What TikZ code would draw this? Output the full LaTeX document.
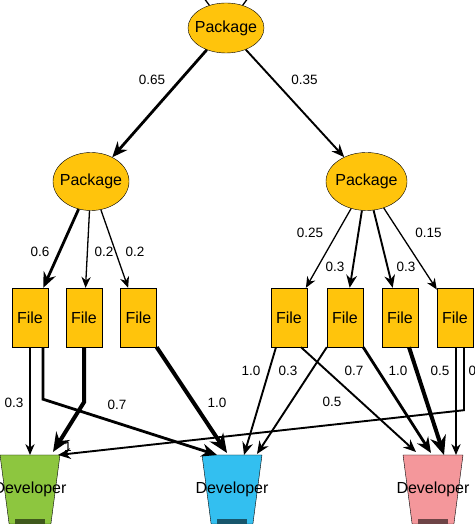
\documentclass[tikz,border=0pt]{standalone}
\usepackage{fontspec}
\setmainfont{Liberation Sans}
\usepackage{xcolor}
\usetikzlibrary{shapes.geometric,arrows.meta}
\definecolor{pkgyellow}{HTML}{FFC40C}
\definecolor{devgreen}{HTML}{8DC63F}
\definecolor{devblue}{HTML}{33BFF0}
\definecolor{devpink}{HTML}{F4979B}
\tikzset{pkg/.style={ellipse,draw,fill=pkgyellow,minimum width=76pt,minimum height=58pt,inner sep=0pt,font=\fontsize{16}{19}\selectfont}}
\tikzset{file/.style={rectangle,draw,fill=pkgyellow,minimum width=36pt,minimum height=59pt,inner sep=0pt,font=\fontsize{16}{19}\selectfont}}
\tikzset{dev/.style={trapezium,draw,shape border rotate=180,trapezium stretches=true,trapezium angle=77.7,minimum width=60pt,minimum height=69pt,inner sep=2pt,outer sep=0pt,label={[font=\fontsize{16}{19}\selectfont]center:Developer}}}
\tikzset{lbl/.style={font=\fontsize{13.5}{16}\selectfont,inner sep=0pt}}
\tikzset{e1/.style={->,line width=1.3pt},e2/.style={->,line width=1.9pt},e3/.style={->,line width=2.8pt},e4/.style={->,line width=4pt}}

\begin{document}
\begin{tikzpicture}[x=1pt,y=1pt,>={Stealth[length=7pt 3,width=6pt 2.5]}]
    \useasboundingbox (0,0) rectangle (474,524);

    \node[pkg,minimum height=50pt] (pkgTop) at (226,496) {\makebox[0pt]{Package}};
    \node[pkg] (pkgL) at (91,342.5) {\makebox[0pt]{Package}};
    \node[pkg,minimum width=81pt] (pkgR) at (366.5,342.5) {\makebox[0pt]{Package}};

    \node[file] (f1) at (30,206.5) {File};
    \node[file] (f2) at (84,206.5) {File};
    \node[file] (f3) at (138.5,206.5) {File};
    \node[file] (f4) at (289,206.5) {File};
    \node[file] (f5) at (345,206.5) {File};
    \node[file] (f6) at (400,206.5) {File};
    \node[file] (f7) at (455,206.5) {File};

    \node[dev,fill=devgreen] (devG) at (30,34.5) {};
    \node[dev,fill=devblue] (devB) at (232,34.5) {};
    \node[dev,fill=devpink] (devR) at (433,34.5) {};
    \draw [line width=5pt,devgreen!45!black] ([xshift=-15pt,yshift=2.5pt]devG.south) -- ([xshift=15pt,yshift=2.5pt]devG.south);
    \draw [line width=5pt,devblue!45!black] ([xshift=-15pt,yshift=2.5pt]devB.south) -- ([xshift=15pt,yshift=2.5pt]devB.south);
    \draw [line width=5pt,devpink!45!black] ([xshift=-15pt,yshift=2.5pt]devR.south) -- ([xshift=15pt,yshift=2.5pt]devR.south);

    % edges leaving the picture at the top
    \coordinate (upL) at (190,545);
    \coordinate (upR) at (262,545);
    \draw [line width=1.3pt] (pkgTop) -- (upL);
    \draw [line width=1.3pt] (pkgTop) -- (upR);

    \draw [e3] (pkgTop) to (pkgL);
    \draw [e2] (pkgTop) to (pkgR);

    \draw [e3] (pkgL) to (f1);
    \draw [e1] (pkgL) to (f2);
    \draw [e1] (pkgL) to (f3);
    \draw [e1] (pkgR) to (f4);
    \draw [e2] (pkgR) to (f5);
    \draw [e2] (pkgR) to (f6);
    \draw [e1] (pkgR) to (f7);

    \draw [e1] (f1) to (devG);
    \draw [e3] ([xshift=13pt]f1.south) -- ++(0,-52) -- ([xshift=-15pt]devB.north);
    \draw [e4] (f2.south) -- ++(0,-55) -- ([xshift=23pt,yshift=3pt]devG.north);
    \draw [e4] (f3.south east) -- ([xshift=-5pt,yshift=2pt]devB.north);
    \draw [e2] ([xshift=-13pt]f4.south) -- ([xshift=12pt]devB.north);
    \draw [e2] ([xshift=12pt]f4.south) -- ([xshift=-17pt,yshift=3pt]devR.north);
    \draw [e2] (f5.south west) -- ([xshift=25pt,yshift=1pt]devB.north);
    \draw [e3] (f5.south east) -- ([xshift=-2pt,yshift=2pt]devR.north);
    \draw [e4] ([xshift=9pt]f6.south) -- ([xshift=11pt]devR.north);
    \draw [e1] ([xshift=1pt]f7.south) -- ([xshift=23pt]devR.north);
    \draw [e2] ([xshift=9pt]f7.south) -- ++(0,-63) -- ([xshift=28pt]devG.north);

    \node[lbl] (l1) at (152,444) {0.65};
    \node[lbl] (l2) at (304.5,444) {0.35};
    \node[lbl] (l3) at (40,272) {0.6};
    \node[lbl] (l4) at (104,272) {0.2};
    \node[lbl] (l5) at (135,272) {0.2};
    \node[lbl] (l6) at (310,291) {0.25};
    \node[lbl] (l7) at (335,257) {0.3};
    \node[lbl] (l8) at (406,257) {0.3};
    \node[lbl] (l9) at (428.5,291) {0.15};
    \node[lbl] (l10) at (14,121) {0.3};
    \node[lbl] (l11) at (117,119) {0.7};
    \node[lbl] (l12) at (68,77) {1};
    \node[lbl] (l13) at (217,121) {1.0};
    \node[lbl] (l14) at (251,153) {1.0};
    \node[lbl] (l15) at (288,153) {0.3};
    \node[lbl] (l16) at (354,153) {0.7};
    \node[lbl] (l17) at (398,153) {1.0};
    \node[lbl] (l18) at (440,153) {0.5};
    \node[lbl] (l19) at (478,153) {0.5};
    \node[lbl] (l20) at (332,122) {0.5};
\end{tikzpicture}
\end{document}
